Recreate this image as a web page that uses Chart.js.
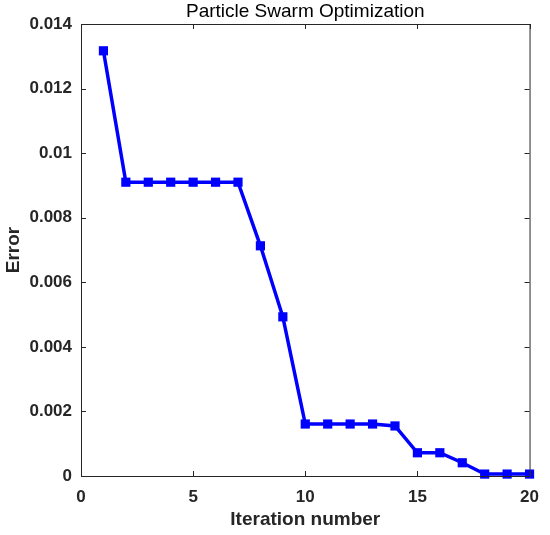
<!DOCTYPE html>
<html>
<head>
<meta charset="utf-8">
<script src="https://cdn.jsdelivr.net/npm/chart.js@4"></script>
<style>
  html, body { margin: 0; padding: 0; background: #fff; }
  #wrap { width: 550px; height: 535px; position: relative; }
</style>
</head>
<body>
<div id="wrap"><canvas id="psoChart"></canvas></div>
<script>
// values
const iterations = [1, 2, 3, 4, 5, 6, 7, 8, 9, 10, 11, 12, 13, 14, 15, 16, 17, 18, 19, 20];
const errors = [0.01317, 0.0091, 0.0091, 0.0091, 0.0091, 0.0091, 0.0091, 0.00713, 0.00493, 0.00161,
                0.00161, 0.00161, 0.00161, 0.00155, 0.00072, 0.00072, 0.00041, 0.00006, 0.00006, 0.00006];
const xTicks = [0, 5, 10, 15, 20];
const yTicks = [0, 0.002, 0.004, 0.006, 0.008, 0.01, 0.012, 0.014];
const titleText = 'Particle Swarm Optimization';

const axisColor = '#262626';
const fontFamily = 'Liberation Sans, Arial, sans-serif';

// box round the plot with inward tick marks, like matlab, plus title over the plot area
const boxPlugin = {
    id: 'boxPlugin',
    afterDraw(chart) {
        const ctx = chart.ctx;
        const a = chart.chartArea;
        const xs = chart.scales.x, ys = chart.scales.y;
        ctx.save();
        ctx.strokeStyle = axisColor;
        ctx.lineWidth = 1;
        ctx.beginPath();
        ctx.rect(a.left + 0.5, a.top + 0.5, a.right - a.left, a.bottom - a.top);
        xTicks.forEach(v => {
            const px = Math.round(xs.getPixelForValue(v)) + 0.5;
            ctx.moveTo(px, a.bottom); ctx.lineTo(px, a.bottom - 5);
            ctx.moveTo(px, a.top); ctx.lineTo(px, a.top + 5);
        });
        yTicks.forEach(v => {
            const py = Math.round(ys.getPixelForValue(v)) + 0.5;
            ctx.moveTo(a.left, py); ctx.lineTo(a.left + 5, py);
            ctx.moveTo(a.right, py); ctx.lineTo(a.right - 5, py);
        });
        ctx.stroke();

        ctx.fillStyle = '#000';
        ctx.font = '19px ' + fontFamily;
        ctx.textAlign = 'center';
        ctx.textBaseline = 'middle';
        ctx.fillText(titleText, (a.left + a.right) / 2, 12);
        ctx.restore();
    }
};

const ctxPso = document.getElementById('psoChart');

const psoChart = new Chart(ctxPso, {
    type: 'line',
    data: {
        datasets: [{
            label: 'Error',
            data: iterations.map((it, i) => ({x: it, y: errors[i]})),
            borderColor: '#0000ff',
            backgroundColor: '#0000ff',
            borderWidth: 3.5,
            pointStyle: 'rect',
            pointRadius: 6.5,
            pointBorderWidth: 0,
            tension: 0,
            clip: false
        }]
    },
    options: {
        responsive: true,
        maintainAspectRatio: false,
        animation: false,
        layout: {
            padding: {left: 0, right: 17, top: 24, bottom: 0}
        },
        plugins: {
            legend: { display: false },
            tooltip: { enabled: false },
            title: { display: false }
        },
        scales: {
            x: {
                type: 'linear',
                min: 0,
                max: 20,
                afterBuildTicks: (s) => { s.ticks = xTicks.map(v => ({value: v})); },
                afterFit: (s) => { s.height = 59; },
                grid: { display: false, drawTicks: false },
                border: { display: false },
                ticks: {
                    color: axisColor,
                    padding: 11,
                    font: { family: fontFamily, size: 17, weight: 'bold' }
                },
                title: {
                    display: true,
                    text: 'Iteration number',
                    color: axisColor,
                    padding: { top: 0, bottom: 4 },
                    font: { family: fontFamily, size: 19, weight: 'bold' }
                }
            },
            y: {
                min: 0,
                max: 0.014,
                afterBuildTicks: (s) => { s.ticks = yTicks.map(v => ({value: v})); },
                afterFit: (s) => { s.width = 81; },
                grid: { display: false, drawTicks: false },
                border: { display: false },
                ticks: {
                    color: axisColor,
                    padding: 9,
                    callback: (v) => String(Math.round(v * 1000) / 1000),
                    font: { family: fontFamily, size: 17, weight: 'bold' }
                },
                title: {
                    display: true,
                    text: 'Error',
                    color: axisColor,
                    padding: { top: 2, bottom: 0 },
                    font: { family: fontFamily, size: 19, weight: 'bold' }
                }
            }
        }
    },
    plugins: [boxPlugin]
});
</script>
</body>
</html>
